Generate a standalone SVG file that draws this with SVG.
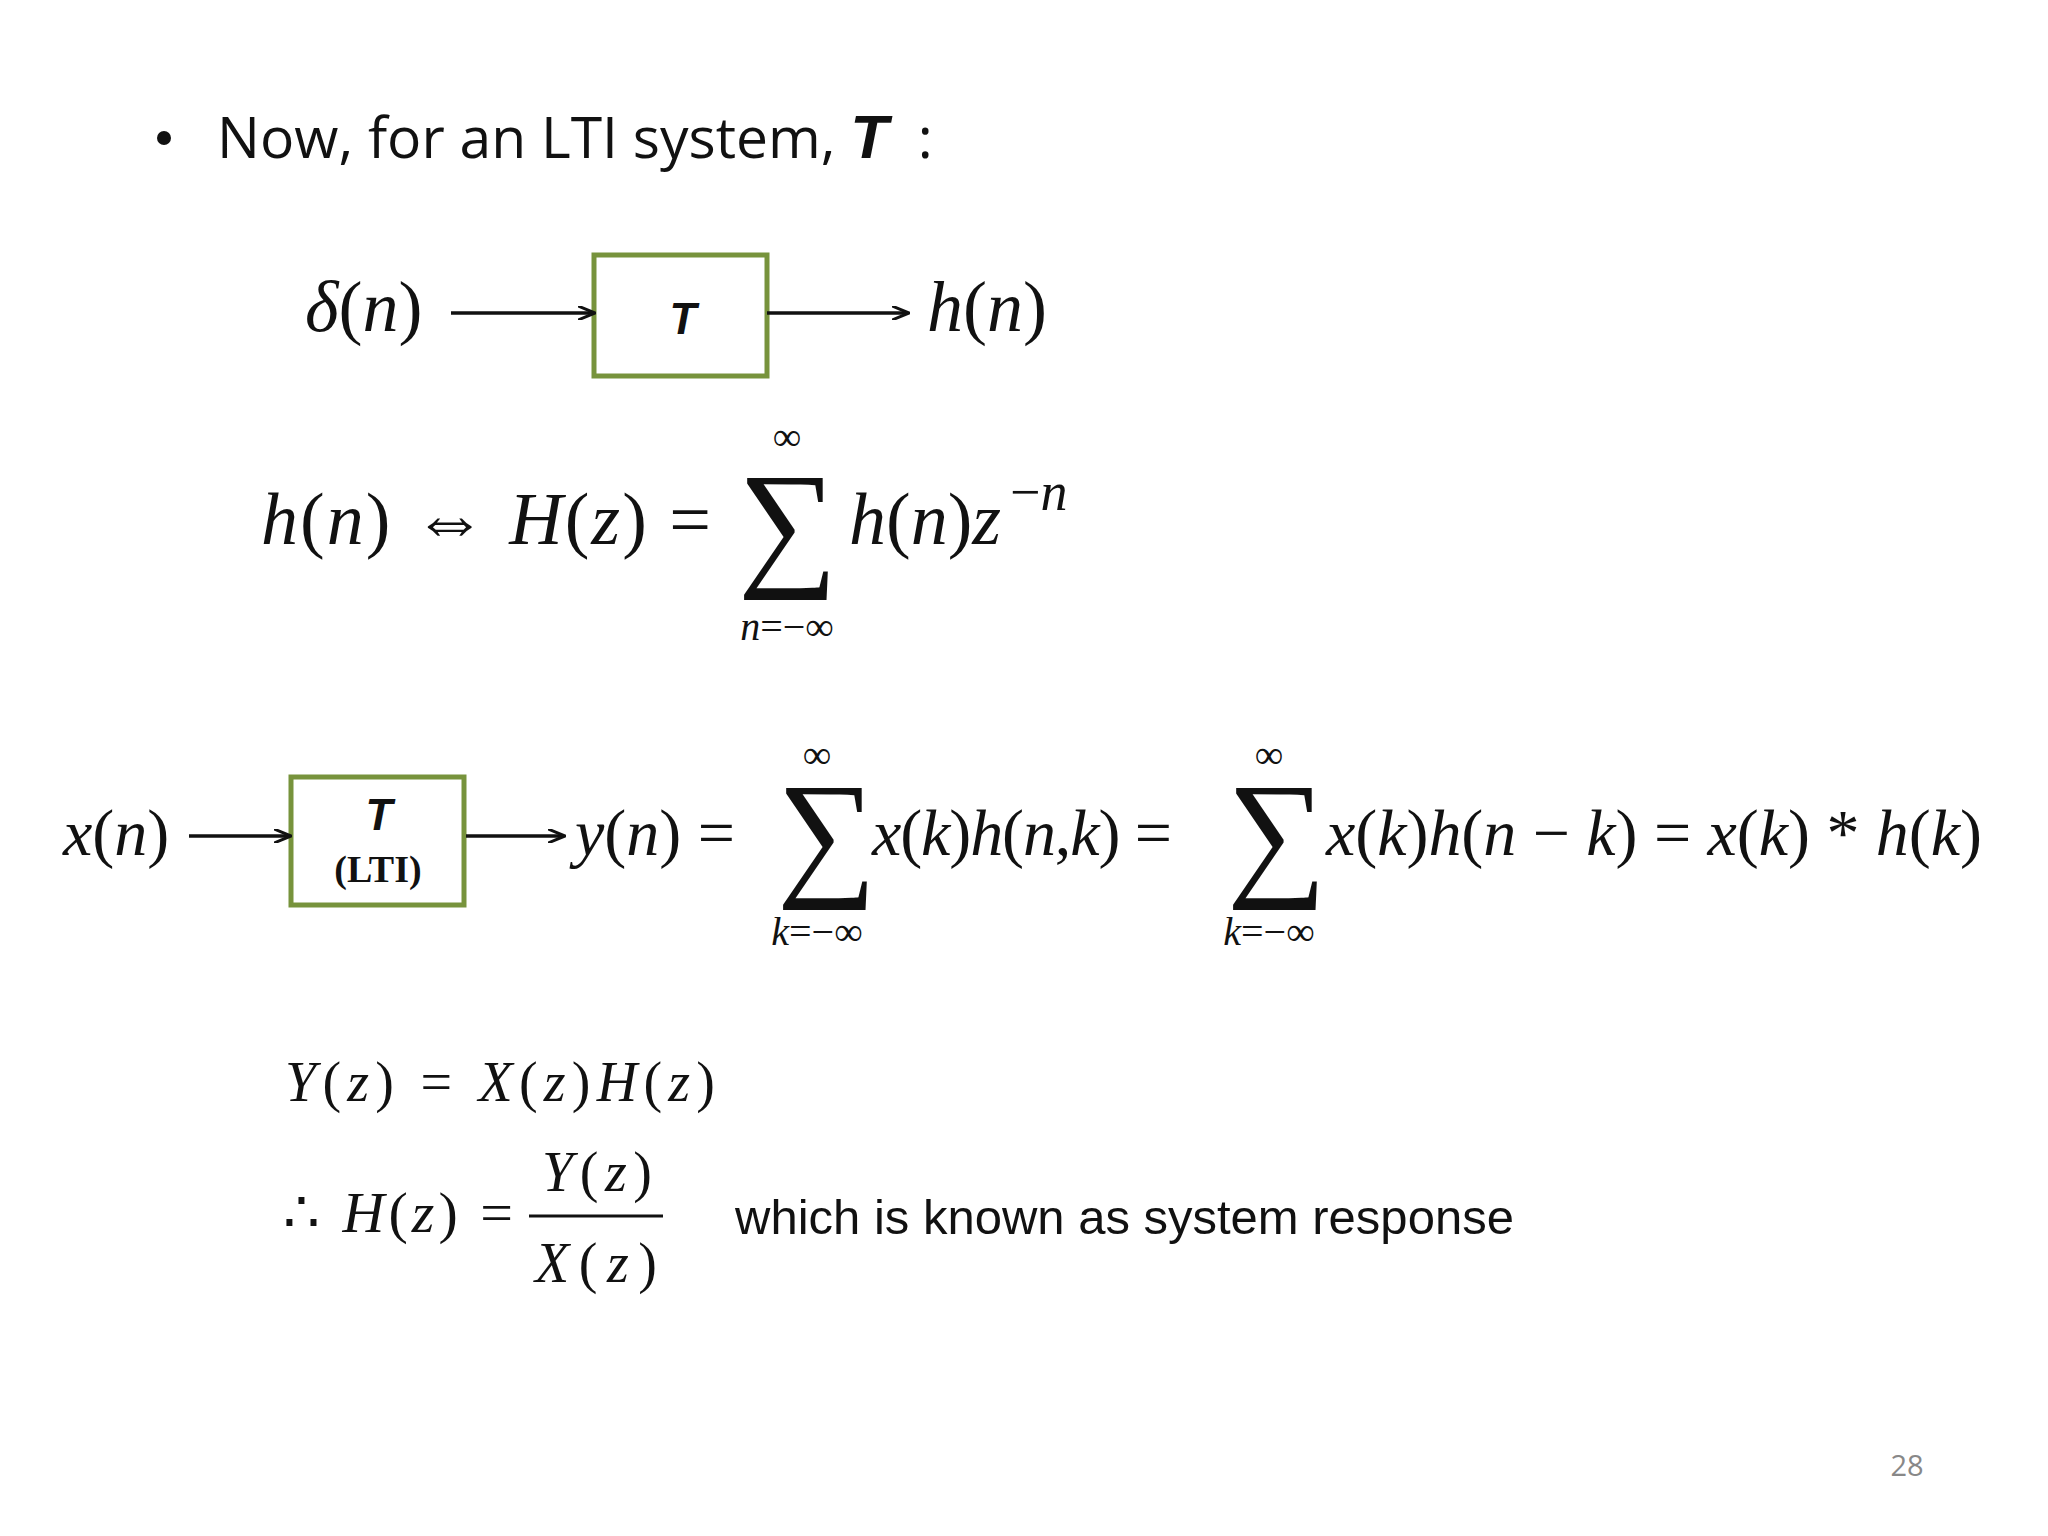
<svg xmlns="http://www.w3.org/2000/svg" width="2048" height="1536" viewBox="0 0 2048 1536">
<style>
.m{font-family:"Liberation Serif",serif;font-style:italic;fill:#111}
.u{font-style:normal}
.s{font-family:"Liberation Serif",serif;font-size:40px;fill:#111}
.sig{font-family:"Liberation Serif",serif;font-style:normal;font-size:140px;fill:#111}
.box{fill:#fff;stroke:#77933c;stroke-width:5}
.ln{stroke:#111;stroke-width:3.5;fill:none}
.tb{font-family:"Liberation Sans",sans-serif;font-style:italic;font-weight:bold;fill:#111}
</style>
<defs><marker id="a" markerWidth="18" markerHeight="14" refX="16" refY="7" orient="auto" markerUnits="userSpaceOnUse"><path d="M0,0 L17,7 L0,14" fill="none" stroke="#111" stroke-width="3"/></marker></defs>
<rect width="2048" height="1536" fill="#fff"/>
<circle cx="164" cy="138" r="7" fill="#111"/>
<text x="217" y="158" font-family="Open Sans,sans-serif" font-size="57" fill="#111" xml:space="preserve">Now, for an LTI system, <tspan class="tb" font-size="62">T</tspan>  :</text>
<g id="n1"><rect class="box" x="594" y="255" width="173" height="121"/><text class="tb" x="683" y="334" font-size="44" text-anchor="middle">T</text></g>
<g id="n2"><rect class="box" x="291" y="777" width="173" height="128"/><text class="tb" x="379" y="830" font-size="44" text-anchor="middle">T</text><text x="378" y="882" font-family="Liberation Serif,serif" font-weight="bold" font-size="38" text-anchor="middle" fill="#111">(LTI)</text></g>
<g id="conn">
<line class="ln" x1="451" y1="313" x2="594" y2="313" marker-end="url(#a)"/>
<line class="ln" x1="767" y1="313" x2="908" y2="313" marker-end="url(#a)"/>
<line class="ln" x1="189" y1="836" x2="290" y2="836" marker-end="url(#a)"/>
<line class="ln" x1="466" y1="836" x2="564" y2="836" marker-end="url(#a)"/>
</g>
<text class="m" x="305" y="331" font-size="72">δ<tspan class="u">(</tspan>n<tspan class="u">)</tspan></text>
<text class="m" x="927" y="331" font-size="72">h<tspan class="u">(</tspan>n<tspan class="u">)</tspan></text>
<text class="m" x="261" y="544" font-size="74" textLength="450">h<tspan class="u">(</tspan>n<tspan class="u">)</tspan> <tspan class="u">⇔</tspan> H<tspan class="u">(</tspan>z<tspan class="u">) =</tspan></text>
<text class="sig" x="738" y="570">∑</text>
<text class="s" x="787" y="450" text-anchor="middle">∞</text>
<text class="s" x="787" y="640" text-anchor="middle"><tspan font-style="italic">n</tspan>=−∞</text>
<text class="m" x="849" y="544" font-size="74">h<tspan class="u">(</tspan>n<tspan class="u">)</tspan>z</text>
<text class="m" x="1010" y="510" font-size="54"><tspan class="u">−</tspan>n</text>
<text class="m" x="63" y="855" font-size="66">x<tspan class="u">(</tspan>n<tspan class="u">)</tspan></text>
<text class="m" x="575" y="855" font-size="66">y<tspan class="u">(</tspan>n<tspan class="u">) =</tspan></text>
<text class="sig" x="777" y="880">∑</text>
<text class="s" x="817" y="768" text-anchor="middle">∞</text>
<text class="s" x="817" y="945" text-anchor="middle"><tspan font-style="italic">k</tspan>=−∞</text>
<text class="m" x="872" y="855" font-size="66" textLength="300">x<tspan class="u">(</tspan>k<tspan class="u">)</tspan>h<tspan class="u">(</tspan>n<tspan class="u">,</tspan>k<tspan class="u">) =</tspan></text>
<text class="sig" x="1227" y="880">∑</text>
<text class="s" x="1269" y="768" text-anchor="middle">∞</text>
<text class="s" x="1269" y="945" text-anchor="middle"><tspan font-style="italic">k</tspan>=−∞</text>
<text class="m" x="1326" y="855" font-size="66" textLength="656">x<tspan class="u">(</tspan>k<tspan class="u">)</tspan>h<tspan class="u">(</tspan>n <tspan class="u">−</tspan> k<tspan class="u">) =</tspan> x<tspan class="u">(</tspan>k<tspan class="u">) *</tspan> h<tspan class="u">(</tspan>k<tspan class="u">)</tspan></text>
<text class="m" x="285" y="1101" font-size="56" textLength="430">Y<tspan class="u">(</tspan>z<tspan class="u">) =</tspan> X<tspan class="u">(</tspan>z<tspan class="u">)</tspan>H<tspan class="u">(</tspan>z<tspan class="u">)</tspan></text>
<text class="m" x="283" y="1232" font-size="58" textLength="230"><tspan class="u">∴</tspan> H<tspan class="u">(</tspan>z<tspan class="u">) =</tspan></text>
<line x1="529" y1="1216" x2="663" y2="1216" stroke="#111" stroke-width="3"/>
<text class="m" x="542" y="1191" font-size="56" textLength="110">Y<tspan class="u">(</tspan>z<tspan class="u">)</tspan></text>
<text class="m" x="535" y="1282" font-size="56" textLength="122">X<tspan class="u">(</tspan>z<tspan class="u">)</tspan></text>
<text x="735" y="1234" font-family="Liberation Sans,sans-serif" font-size="49" fill="#111">which is known as system response</text>
<text x="1907" y="1476" font-family="Open Sans,sans-serif" font-size="29" fill="#888" text-anchor="middle">28</text>
</svg>
